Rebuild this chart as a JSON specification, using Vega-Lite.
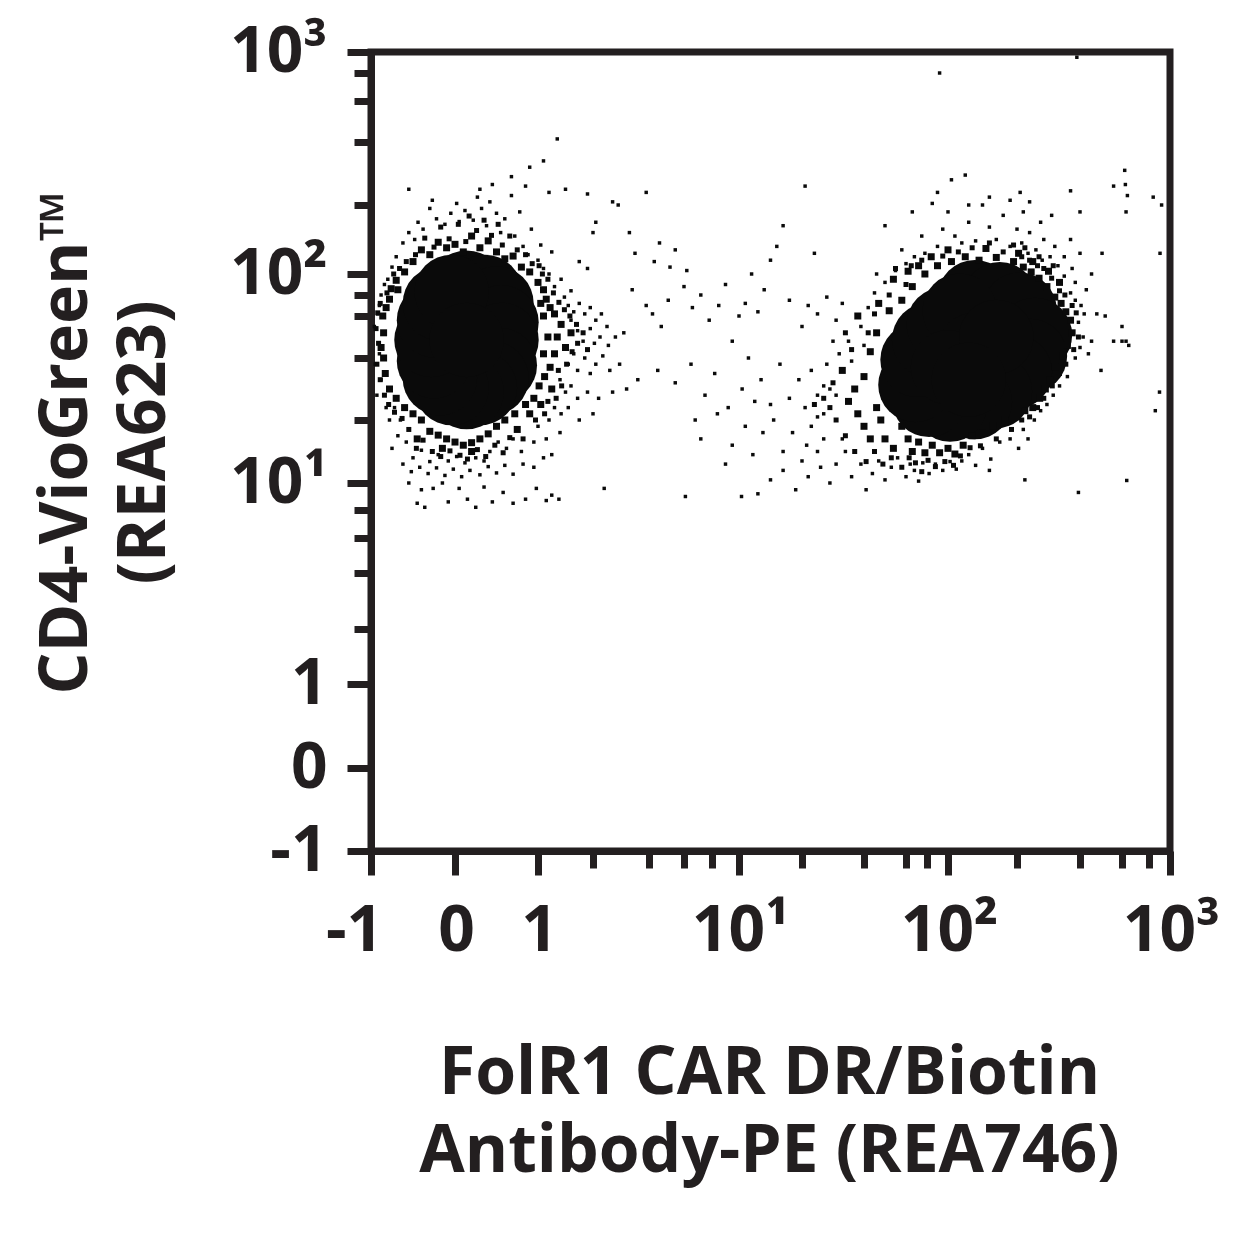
{"$schema":"https://vega.github.io/schema/vega-lite/v6.json","width":799,"height":799,"autosize":{"type":"none"},"padding":{"left":371,"top":52,"right":80,"bottom":399},"background":"white","view":{"stroke":"#231f20","strokeWidth":7,"fill":"white"},
"config":{"font":"Open Sans","axis":{"domainColor":"#231f20","domainWidth":7,"tickColor":"#231f20","tickWidth":7,"grid":false,"labelFont":"Open Sans","labelFontWeight":700,"labelFontSize":64,"labelColor":"#231f20","titleFont":"Open Sans","titleFontWeight":700,"titleFontSize":66,"titleColor":"#231f20","labelOverlap":false,"labelFlush":false,"labelBound":false,"titleLineHeight":78}},
"datasets":{
"core":[{"x":0.14,"y":87},{"x":0.36,"y":83},{"x":0.5,"y":72},{"x":0.56,"y":57},{"x":0.56,"y":48.6},{"x":0.54,"y":37.7},{"x":0.44,"y":33.5},{"x":0.3,"y":30.3},{"x":0.14,"y":29},{"x":-0.04,"y":30.3},{"x":-0.18,"y":33.5},{"x":-0.25,"y":39},{"x":-0.28,"y":48.6},{"x":-0.25,"y":58},{"x":-0.18,"y":72},{"x":-0.04,"y":83},{"x":0.14,"y":48.6},
{"x":139,"y":78},{"x":175,"y":76},{"x":208,"y":66},{"x":257,"y":51},{"x":241,"y":41},{"x":197,"y":35.5},{"x":168,"y":29.2},{"x":139,"y":25.8},{"x":103,"y":25},{"x":82,"y":26.5},{"x":69,"y":31.3},{"x":71,"y":39.4},{"x":82,"y":48.6},{"x":96,"y":56},{"x":117,"y":65},{"x":139,"y":44},{"x":100,"y":37},{"x":170,"y":50},{"x":130,"y":33}],
"dense":[{"x":-0.5,"y":118},{"x":-0.4,"y":135},{"x":-0.3,"y":128},{"x":-0.2,"y":146},{"x":-0.1,"y":138},{"x":0,"y":143},{"x":0.1,"y":132},{"x":0.2,"y":155},{"x":0.3,"y":138},{"x":0.4,"y":148},{"x":0.5,"y":132},{"x":0.6,"y":122},{"x":0.7,"y":126},{"x":0.8,"y":110},{"x":-0.6,"y":103},{"x":-0.7,"y":94},{"x":-0.76,"y":86},{"x":0.9,"y":103},{"x":1.0,"y":92},{"x":1.1,"y":85},{"x":1.15,"y":76},{"x":1.22,"y":68},{"x":1.3,"y":62},{"x":1.42,"y":56},{"x":1.35,"y":50},{"x":1.5,"y":45},{"x":1.6,"y":52},{"x":1.3,"y":42},{"x":1.22,"y":37},{"x":1.12,"y":34},{"x":1.02,"y":31},{"x":1.25,"y":30},{"x":0.95,"y":27},{"x":0.85,"y":25},{"x":0.9,"y":22},{"x":0.72,"y":22},{"x":0.6,"y":20},{"x":0.5,"y":19},{"x":0.4,"y":17.8},{"x":0.3,"y":17},{"x":0.2,"y":16.4},{"x":0.1,"y":16},{"x":0,"y":16.5},{"x":-0.1,"y":17},{"x":-0.2,"y":17.6},{"x":-0.3,"y":18.2},{"x":-0.4,"y":20},{"x":-0.5,"y":22},{"x":-0.6,"y":24},{"x":-0.7,"y":27},{"x":-0.78,"y":30},{"x":-0.83,"y":35},{"x":-0.85,"y":40},{"x":-0.88,"y":45},{"x":-0.85,"y":52},{"x":-0.86,"y":60},{"x":-0.82,"y":68},{"x":-0.78,"y":76},{"x":-0.68,"y":85},{"x":1.05,"y":72},{"x":1.1,"y":60},{"x":1.18,"y":50},{"x":1.1,"y":42},{"x":1.05,"y":25},{"x":0.75,"y":18.5},{"x":0.2,"y":15},{"x":-0.15,"y":15.5},{"x":-0.45,"y":17},
{"x":35,"y":26},{"x":38,"y":22},{"x":40,"y":19},{"x":43,"y":17},{"x":46,"y":24},{"x":48,"y":20},{"x":50,"y":17},{"x":54,"y":15.5},{"x":58,"y":19},{"x":62,"y":17},{"x":66,"y":15},{"x":72,"y":16.5},{"x":78,"y":14.8},{"x":85,"y":16},{"x":92,"y":14.8},{"x":100,"y":15.5},{"x":110,"y":14.6},{"x":122,"y":16},{"x":135,"y":17.5},{"x":150,"y":18},{"x":165,"y":19},{"x":182,"y":20},{"x":200,"y":21},{"x":225,"y":23},{"x":250,"y":24},{"x":272,"y":27},{"x":290,"y":30},{"x":305,"y":33},{"x":320,"y":37},{"x":345,"y":41},{"x":360,"y":46},{"x":375,"y":52},{"x":370,"y":58},{"x":355,"y":64},{"x":340,"y":72},{"x":320,"y":78},{"x":295,"y":88},{"x":270,"y":96},{"x":245,"y":103},{"x":220,"y":110},{"x":195,"y":118},{"x":170,"y":124},{"x":145,"y":120},{"x":125,"y":125},{"x":105,"y":118},{"x":90,"y":112},{"x":78,"y":100},{"x":66,"y":88},{"x":58,"y":75},{"x":52,"y":65},{"x":46,"y":52},{"x":43,"y":43},{"x":40,"y":34},{"x":37,"y":30},{"x":54,"y":95},{"x":62,"y":104},{"x":72,"y":112},{"x":84,"y":125},{"x":100,"y":135},{"x":155,"y":137},{"x":205,"y":130},{"x":250,"y":118},{"x":300,"y":104},{"x":335,"y":92},{"x":47,"y":72},{"x":38,"y":60},{"x":33,"y":36}],
"mid":[{"x":-0.47,"y":128},{"x":-0.36,"y":152},{"x":-0.25,"y":139},{"x":-0.17,"y":168},{"x":-0.07,"y":151},{"x":0.04,"y":172},{"x":0.13,"y":147},{"x":0.17,"y":184},{"x":0.26,"y":163},{"x":0.35,"y":178},{"x":0.44,"y":156},{"x":0.52,"y":172},{"x":0.57,"y":142},{"x":0.66,"y":155},{"x":0.75,"y":135},{"x":0.85,"y":128},{"x":0.93,"y":115},{"x":1.02,"y":112},{"x":-0.58,"y":118},{"x":-0.66,"y":108},{"x":-0.73,"y":100},{"x":-0.81,"y":82},{"x":-0.89,"y":72},{"x":-0.92,"y":63},{"x":-0.94,"y":54},{"x":-0.91,"y":47},{"x":-0.93,"y":38},{"x":-0.89,"y":33},{"x":-0.84,"y":28},{"x":-0.79,"y":25},{"x":-0.72,"y":22.5},{"x":-0.63,"y":20.5},{"x":-0.55,"y":18.5},{"x":-0.46,"y":15.5},{"x":-0.38,"y":16.8},{"x":-0.27,"y":15},{"x":-0.17,"y":14.2},{"x":-0.06,"y":15.1},{"x":0.06,"y":14.4},{"x":0.15,"y":13.8},{"x":0.27,"y":15.3},{"x":0.37,"y":14.2},{"x":0.48,"y":16},{"x":0.58,"y":14.8},{"x":0.66,"y":17.2},{"x":0.82,"y":17},{"x":0.97,"y":20},{"x":1.12,"y":22},{"x":1.18,"y":26},{"x":1.33,"y":27},{"x":1.43,"y":31},{"x":1.37,"y":36},{"x":1.52,"y":38},{"x":1.62,"y":43},{"x":1.72,"y":47},{"x":1.58,"y":60},{"x":1.48,"y":66},{"x":1.38,"y":73},{"x":1.28,"y":82},{"x":1.18,"y":95},{"x":1.08,"y":100},{"x":1.7,"y":56},{"x":1.82,"y":52},{"x":1.9,"y":44},
{"x":29,"y":24},{"x":31,"y":20},{"x":34,"y":17.5},{"x":37,"y":15},{"x":41,"y":13.4},{"x":45,"y":15},{"x":49,"y":13},{"x":53,"y":14},{"x":58,"y":12.5},{"x":63,"y":14},{"x":69,"y":13.2},{"x":75,"y":11.8},{"x":81,"y":13.6},{"x":88,"y":12.6},{"x":97,"y":13.4},{"x":108,"y":12.8},{"x":118,"y":14.3},{"x":132,"y":15.6},{"x":147,"y":15.9},{"x":170,"y":17},{"x":192,"y":18.5},{"x":215,"y":20},{"x":240,"y":21},{"x":265,"y":24},{"x":285,"y":27},{"x":312,"y":31},{"x":335,"y":35},{"x":355,"y":38},{"x":380,"y":44},{"x":395,"y":50},{"x":388,"y":63},{"x":375,"y":70},{"x":352,"y":80},{"x":335,"y":84},{"x":310,"y":96},{"x":315,"y":112},{"x":285,"y":108},{"x":265,"y":112},{"x":240,"y":120},{"x":215,"y":125},{"x":180,"y":132},{"x":135,"y":138},{"x":115,"y":132},{"x":95,"y":126},{"x":75,"y":120},{"x":60,"y":90},{"x":52,"y":80},{"x":45,"y":62},{"x":36,"y":44},{"x":30,"y":32},{"x":65,"y":112},{"x":55,"y":108},{"x":160,"y":145},{"x":195,"y":142},{"x":225,"y":138},{"x":270,"y":125},{"x":42,"y":52},{"x":34,"y":52},{"x":27,"y":27},{"x":24,"y":25}],
"sparse":[{"x":-0.92,"y":62},{"x":-0.95,"y":38},{"x":-0.9,"y":42},{"x":-0.96,"y":55},{"x":-0.9,"y":70},{"x":-0.88,"y":33},{"x":-0.93,"y":28},{"x":-0.88,"y":80},{"x":-0.8,"y":95},{"x":-0.84,"y":90},{"x":-0.75,"y":110},{"x":-0.82,"y":24},{"x":-0.72,"y":24},{"x":-0.78,"y":20},{"x":-0.65,"y":20},{"x":-0.7,"y":125},{"x":-0.62,"y":145},{"x":-0.55,"y":160},{"x":-0.48,"y":150},{"x":-0.44,"y":175},{"x":-0.38,"y":165},{"x":-0.3,"y":195},{"x":-0.22,"y":180},{"x":-0.27,"y":215},{"x":-0.12,"y":172},{"x":-0.05,"y":188},{"x":0.02,"y":205},{"x":0.05,"y":176},{"x":0.12,"y":192},{"x":0.22,"y":178},{"x":0.27,"y":225},{"x":0.32,"y":195},{"x":0.38,"y":170},{"x":0.42,"y":210},{"x":0.5,"y":188},{"x":0.55,"y":160},{"x":0.6,"y":180},{"x":0.68,"y":230},{"x":0.72,"y":155},{"x":0.78,"y":190},{"x":0.82,"y":140},{"x":0.88,"y":128},{"x":0.92,"y":165},{"x":1.0,"y":120},{"x":1.05,"y":142},{"x":1.1,"y":108},{"x":1.25,"y":132},{"x":1.2,"y":100},{"x":1.3,"y":88},{"x":1.42,"y":95},{"x":1.48,"y":78},{"x":1.6,"y":84},{"x":1.75,"y":118},{"x":1.9,"y":108},{"x":-0.55,"y":250},{"x":0.45,"y":265},{"x":0.68,"y":290},{"x":0.9,"y":320},{"x":1.2,"y":240},{"x":1.35,"y":415},{"x":1.1,"y":340},{"x":0.85,"y":260},{"x":0.3,"y":250},{"x":1.5,"y":250},{"x":1.9,"y":235},{"x":2.1,"y":175},{"x":2.0,"y":160},{"x":2.7,"y":210},{"x":2.9,"y":200},{"x":1.55,"y":70},{"x":1.65,"y":64},{"x":1.75,"y":72},{"x":1.85,"y":62},{"x":1.95,"y":68},{"x":2.1,"y":58},{"x":2.3,"y":62},{"x":2.5,"y":55},{"x":1.6,"y":58},{"x":1.72,"y":53},{"x":1.82,"y":48},{"x":1.95,"y":54},{"x":2.05,"y":47},{"x":2.25,"y":50},{"x":2.55,"y":46},{"x":2.8,"y":50},{"x":3.1,"y":52},{"x":1.55,"y":38},{"x":1.65,"y":42},{"x":1.72,"y":36},{"x":1.85,"y":40},{"x":1.95,"y":35},{"x":2.1,"y":38},{"x":2.35,"y":41},{"x":2.6,"y":36},{"x":2.95,"y":38},{"x":1.4,"y":33},{"x":1.5,"y":29},{"x":1.6,"y":31},{"x":1.72,"y":27},{"x":1.9,"y":29},{"x":2.2,"y":27},{"x":2.7,"y":29},{"x":3.2,"y":30},{"x":3.6,"y":33},{"x":1.3,"y":24},{"x":1.42,"y":22},{"x":1.55,"y":24},{"x":1.75,"y":20},{"x":2.0,"y":22},{"x":1.2,"y":20},{"x":1.4,"y":18},{"x":1.15,"y":17},{"x":1.0,"y":19},{"x":0.95,"y":16.5},{"x":0.8,"y":15},{"x":0.7,"y":17},{"x":0.62,"y":15.5},{"x":0.52,"y":16.5},{"x":0.42,"y":15},{"x":0.35,"y":13.5},{"x":0.25,"y":14},{"x":0.12,"y":13.2},{"x":0.02,"y":14.2},{"x":-0.08,"y":13.5},{"x":-0.2,"y":14.5},{"x":-0.3,"y":13.4},{"x":-0.4,"y":15.2},{"x":-0.5,"y":14},{"x":-0.58,"y":16.5},{"x":-0.68,"y":17.5},{"x":-0.62,"y":13},{"x":-0.75,"y":15.5},{"x":-0.52,"y":11.8},{"x":-0.42,"y":12.5},{"x":-0.32,"y":11.5},{"x":-0.22,"y":12.4},{"x":-0.12,"y":11.2},{"x":-0.02,"y":12.2},{"x":0.08,"y":11},{"x":0.18,"y":12},{"x":0.3,"y":11.3},{"x":0.4,"y":12.6},{"x":0.5,"y":11.6},{"x":0.6,"y":12.8},{"x":0.7,"y":11.4},{"x":0.82,"y":13},{"x":0.95,"y":12.5},{"x":1.1,"y":14},{"x":1.25,"y":14.5},{"x":-0.55,"y":10},{"x":-0.4,"y":9.5},{"x":-0.45,"y":8.5},{"x":-0.36,"y":8.2},{"x":-0.26,"y":9.6},{"x":-0.15,"y":10},{"x":-0.08,"y":8.6},{"x":0.05,"y":9.6},{"x":0.15,"y":8.8},{"x":0.25,"y":8.2},{"x":0.35,"y":9.7},{"x":0.45,"y":8.6},{"x":0.58,"y":9.3},{"x":0.7,"y":8.5},{"x":0.85,"y":8.8},{"x":0.98,"y":9.6},{"x":1.15,"y":8.7},{"x":1.25,"y":9.1},{"x":1.38,"y":8.8},{"x":2.4,"y":9.6},
{"x":3.3,"y":160},{"x":3.5,"y":130},{"x":3.9,"y":240},{"x":4.3,"y":118},{"x":4.6,"y":145},{"x":5.2,"y":110},{"x":5.5,"y":135},{"x":6.2,"y":105},{"x":3.4,"y":85},{"x":3.9,"y":70},{"x":4.2,"y":62},{"x":4.7,"y":55},{"x":5.1,"y":75},{"x":6.0,"y":88},{"x":6.6,"y":68},{"x":7.2,"y":80},{"x":7.8,"y":58},{"x":8.5,"y":70},{"x":9,"y":90},{"x":10,"y":60},{"x":9.5,"y":48},{"x":11,"y":72},{"x":12,"y":100},{"x":13,"y":64},{"x":14,"y":85},{"x":15,"y":120},{"x":16,"y":140},{"x":17,"y":170},{"x":21,"y":260},{"x":24,"y":130},{"x":18,"y":75},{"x":20,"y":55},{"x":22,"y":70},{"x":25,"y":62},{"x":28,"y":78},{"x":31,"y":58},{"x":33,"y":72},{"x":30,"y":48},{"x":4.5,"y":36},{"x":5.5,"y":32},{"x":6.5,"y":38},{"x":7.5,"y":28},{"x":8.2,"y":35},{"x":9.2,"y":24},{"x":10.5,"y":30},{"x":11.5,"y":40},{"x":12.5,"y":26},{"x":13.5,"y":33},{"x":15,"y":25},{"x":16.5,"y":38},{"x":18,"y":27},{"x":19.5,"y":33},{"x":21,"y":24},{"x":23,"y":36},{"x":25,"y":28},{"x":27,"y":22},{"x":29,"y":30},{"x":6.8,"y":20},{"x":7.2,"y":17},{"x":8.4,"y":22},{"x":9.5,"y":16},{"x":11,"y":19},{"x":12.2,"y":14.5},{"x":13.8,"y":18},{"x":15.5,"y":20},{"x":17,"y":15},{"x":18.5,"y":18},{"x":20,"y":13.5},{"x":21.5,"y":16},{"x":23,"y":19},{"x":25,"y":15},{"x":6.1,"y":9},{"x":9,"y":13},{"x":10.4,"y":9},{"x":13,"y":9.2},{"x":15,"y":10.5},{"x":17,"y":12},{"x":19,"y":9.5},{"x":22,"y":11},{"x":26,"y":12.5},{"x":29,"y":10},{"x":31,"y":13},{"x":34,"y":15},{"x":27,"y":17},
{"x":36,"y":11},{"x":39,"y":13},{"x":41,"y":9.5},{"x":44,"y":11.5},{"x":47,"y":13.5},{"x":50,"y":10.5},{"x":53,"y":12.5},{"x":56,"y":14},{"x":60,"y":11},{"x":64,"y":13},{"x":68,"y":12},{"x":72,"y":10.3},{"x":76,"y":13.2},{"x":82,"y":11.5},{"x":88,"y":13},{"x":95,"y":12},{"x":103,"y":13.4},{"x":112,"y":12.2},{"x":120,"y":13.5},{"x":130,"y":14.5},{"x":140,"y":12.8},{"x":150,"y":15.5},{"x":162,"y":13.8},{"x":175,"y":16.5},{"x":190,"y":17},{"x":205,"y":15.5},{"x":220,"y":18.5},{"x":235,"y":17},{"x":255,"y":20},{"x":275,"y":23},{"x":295,"y":25},{"x":315,"y":28},{"x":335,"y":31},{"x":360,"y":34},{"x":385,"y":40},{"x":400,"y":45},{"x":415,"y":50},{"x":395,"y":57},{"x":420,"y":62},{"x":405,"y":70},{"x":385,"y":75},{"x":370,"y":82},{"x":385,"y":92},{"x":350,"y":98},{"x":375,"y":108},{"x":330,"y":112},{"x":350,"y":125},{"x":305,"y":125},{"x":280,"y":120},{"x":320,"y":140},{"x":260,"y":135},{"x":235,"y":130},{"x":285,"y":150},{"x":215,"y":145},{"x":190,"y":140},{"x":240,"y":160},{"x":170,"y":150},{"x":140,"y":148},{"x":200,"y":165},{"x":120,"y":145},{"x":160,"y":168},{"x":110,"y":155},{"x":90,"y":140},{"x":130,"y":175},{"x":78,"y":130},{"x":95,"y":165},{"x":68,"y":125},{"x":75,"y":155},{"x":60,"y":115},{"x":55,"y":105},{"x":50,"y":92},{"x":45,"y":82},{"x":42,"y":68},{"x":39,"y":55},{"x":35,"y":48},{"x":32,"y":42},{"x":28,"y":38},{"x":31,"y":28},{"x":27,"y":31},{"x":25,"y":21},{"x":33,"y":17},{"x":36,"y":39},{"x":40,"y":46},{"x":46,"y":100},{"x":58,"y":135},{"x":100,"y":190},{"x":130,"y":200},{"x":85,"y":205},{"x":150,"y":200},{"x":180,"y":185},{"x":220,"y":190},{"x":160,"y":225},{"x":190,"y":215},{"x":240,"y":210},{"x":275,"y":175},{"x":310,"y":185},{"x":370,"y":150},{"x":400,"y":190},{"x":370,"y":245},{"x":400,"y":130},{"x":105,"y":280},{"x":125,"y":295},{"x":90,"y":240},{"x":210,"y":240},{"x":50,"y":170},{"x":66,"y":190},{"x":430,"y":85},{"x":455,"y":100},{"x":505,"y":130},{"x":560,"y":260},{"x":620,"y":310},{"x":625,"y":265},{"x":640,"y":230},{"x":630,"y":190},{"x":840,"y":225},{"x":920,"y":200},{"x":905,"y":130},{"x":480,"y":62},{"x":520,"y":60},{"x":455,"y":48},{"x":600,"y":48},{"x":560,"y":48},{"x":630,"y":48},{"x":650,"y":46},{"x":440,"y":42},{"x":500,"y":36},{"x":600,"y":55},{"x":395,"y":9.3},{"x":635,"y":10.4},{"x":860,"y":23},{"x":900,"y":29},{"x":225,"y":10.5},{"x":92,"y":800},{"x":390,"y":950},{"x":160,"y":12}]
},
"encoding":{
"x":{"field":"x","type":"quantitative","scale":{"type":"linear","clamp":false,"nice":false,"zero":false,"domain":[-1,0,1,2,4,6,8,10,20,40,60,80,100,200,400,600,800,1000],"range":[0,84,167,222,278,313,341,368,431,493,535,556,577,646,709,751,778,799]},
"axis":{"values":[-1,0,1,2,4,6,8,10,20,40,60,80,100,200,400,600,800,1000],"tickSize":{"condition":{"test":"indexof([-1,0,1,10,100,1000],datum.value)>=0","value":24},"value":17},"labelPadding":24,"labelOffset":{"condition":{"test":"datum.value==-1","value":-17},"value":1},"labelExpr":"datum.value==1000?'10³':datum.value==100?'10²':datum.value==10?'10¹':datum.value==1?'1':datum.value==0?'0':datum.value==-1?'-1':''","title":["FolR1 CAR DR/Biotin","Antibody-PE (REA746)"],"titleX":398,"titleY":242,"titleBaseline":"alphabetic","titleAlign":"center"}},
"y":{"field":"y","type":"quantitative","scale":{"type":"linear","clamp":false,"nice":false,"zero":false,"domain":[-1,0,1,2,4,6,8,10,20,40,60,80,100,200,400,600,800,1000],"range":[799,716,632,577,521,486,458,431,368,306,264,243,222,153,90,49,21,0]},
"axis":{"values":[-1,0,1,2,4,6,8,10,20,40,60,80,100,200,400,600,800,1000],"tickSize":{"condition":{"test":"indexof([-1,0,1,10,100,1000],datum.value)>=0","value":24},"value":17},"labelPadding":20,"labelExpr":"datum.value==1000?'10³':datum.value==100?'10²':datum.value==10?'10¹':datum.value==1?'1':datum.value==0?'0':datum.value==-1?'-1':''","title":["CD4-VioGreen™","(REA623)"],"titleX":-285,"titleY":390,"titleBaseline":"alphabetic","titleAlign":"center"}}
},
"layer":[
{"data":{"name":"core"},"mark":{"type":"point","filled":true,"shape":"circle","size":5542,"opacity":1,"color":"#0a0a0a"}},
{"data":{"name":"dense"},"mark":{"type":"point","filled":true,"shape":"square","size":49,"opacity":1,"color":"#0a0a0a"}},
{"data":{"name":"mid"},"mark":{"type":"point","filled":true,"shape":"square","size":25,"opacity":1,"color":"#0a0a0a"}},
{"data":{"name":"sparse"},"mark":{"type":"point","filled":true,"shape":"square","size":12,"opacity":1,"color":"#0a0a0a"}}
]}
